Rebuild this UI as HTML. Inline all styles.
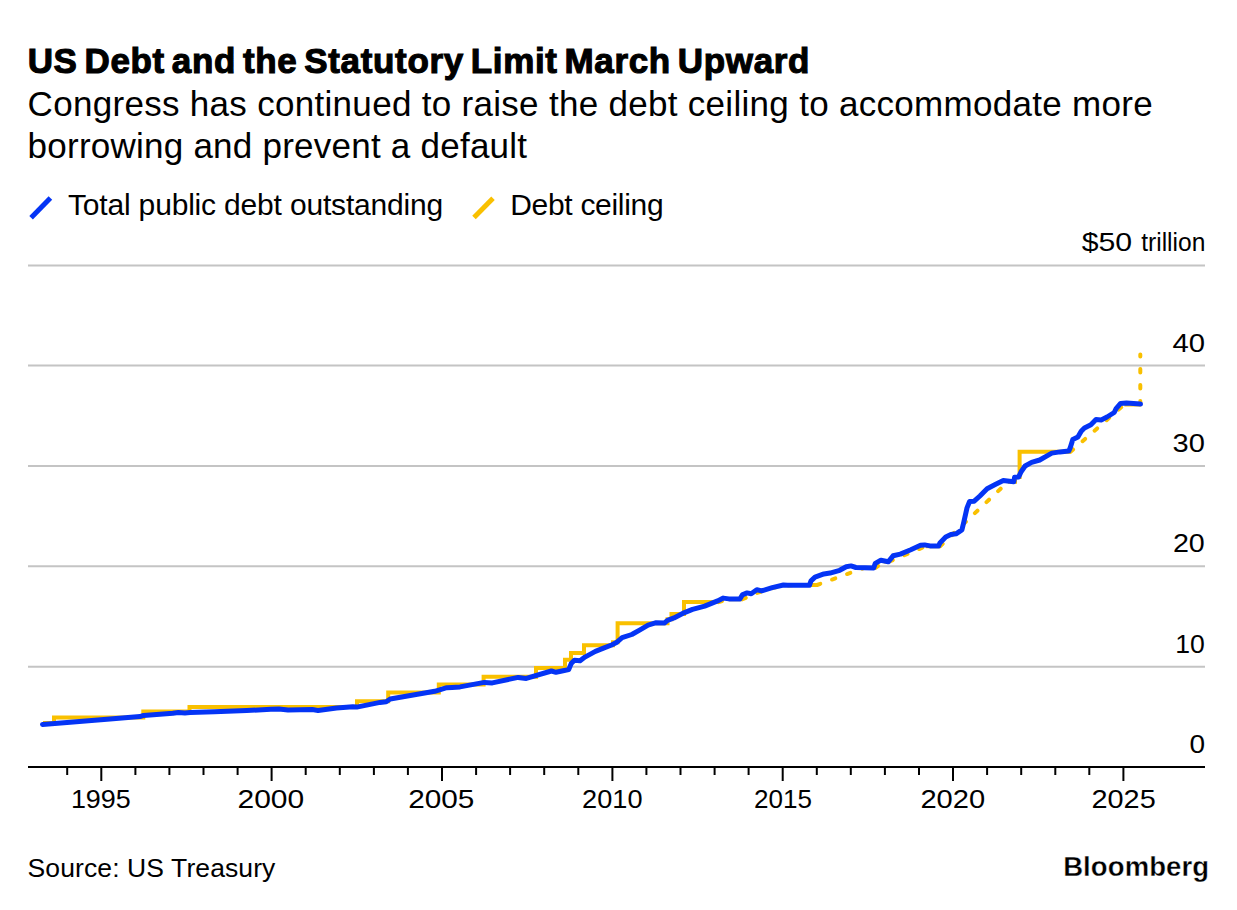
<!DOCTYPE html>
<html><head><meta charset="utf-8"><title>US Debt and the Statutory Limit March Upward</title>
<style>
html,body{margin:0;padding:0;background:#fff;}
body{width:1237px;height:910px;overflow:hidden;}
svg{display:block;}
text{font-family:"Liberation Sans",Arial,Helvetica,sans-serif;fill:#000;}
</style></head><body>
<svg width="1237" height="910" viewBox="0 0 1237 910">
<rect width="1237" height="910" fill="#fff"/>
<text x="27.7" y="72.8" font-size="35" font-weight="700" stroke="#000" stroke-width="1.1" letter-spacing="0.66" word-spacing="-3.5">US Debt and the Statutory Limit March Upward</text>
<text x="27.6" y="115.6" font-size="35" letter-spacing="0.3">Congress has continued to raise the debt ceiling to accommodate more</text>
<text x="27.6" y="157.7" font-size="35" letter-spacing="0.24">borrowing and prevent a default</text>
<line x1="31.1" y1="217.7" x2="50.4" y2="197.9" stroke="#0434f5" stroke-width="5"/>
<text x="68" y="215.2" font-size="30" letter-spacing="-0.18">Total public debt outstanding</text>
<line x1="474" y1="217.5" x2="493" y2="198.3" stroke="#f9c000" stroke-width="5"/>
<text x="510.2" y="215.2" font-size="30" letter-spacing="-0.3">Debt ceiling</text>
<g font-size="26.6">
<text y="251"><tspan x="1081.7" textLength="50.5" lengthAdjust="spacingAndGlyphs">$50</tspan> <tspan x="1141.2" textLength="64.16" lengthAdjust="spacingAndGlyphs">trillion</tspan></text>
<text x="1172.50" y="351.7" textLength="32.55" lengthAdjust="spacingAndGlyphs">40</text><text x="1172.50" y="452" textLength="32.34" lengthAdjust="spacingAndGlyphs">30</text><text x="1172.90" y="552.3" textLength="31.92" lengthAdjust="spacingAndGlyphs">20</text><text x="1175.30" y="652.8" textLength="29.59" lengthAdjust="spacingAndGlyphs">10</text><text x="1189.40" y="753" textLength="15.59" lengthAdjust="spacingAndGlyphs">0</text>
</g>
<g stroke="#c4c4c4" stroke-width="2"><line x1="28" x2="1205" y1="265.4" y2="265.4"/><line x1="28" x2="1205" y1="365.6" y2="365.6"/><line x1="28" x2="1205" y1="465.9" y2="465.9"/><line x1="28" x2="1205" y1="566.3" y2="566.3"/><line x1="28" x2="1205" y1="666.8" y2="666.8"/></g>
<g fill="none" stroke="#f9c000" stroke-width="4" stroke-linejoin="miter">
<path d="M43 723 H54 V717.5 H143.3 V711.4 H189.5 V706.9 H357 V701.3 H388.2 V692.4 H438.8 V684.4 H483.6 V676.8 H536 V668.1 H565 V659.8 H571 V652.9 H584 V645.2 H613 V642.3 H617.6 V623.2 H667.5 V619.3 H671.5 V614 H684 V602.1 H718.7"/><path d="M728.6 599.2 H742.5"/><path d="M795.2 585 H817"/><path d="M863.7 568 H875.4"/><path d="M883.8 561.5 H889.6"/><path d="M925.8 546.2 H940.1"/><path d="M1007.9 481.8 H1015 V477 H1019.6 V451.8 H1070.5"/><path d="M1124.4 404.5 H1140.3"/>
</g>
<g fill="none" stroke="#f9c000" stroke-width="4" stroke-linecap="round" stroke-dasharray="3.5 12.5">
<path d="M718.7 602.1 L728.6 599.2"/><path d="M742.5 599.2 L757 593 L772 588.2 L783.5 585.6 L795.2 585.2"/><path d="M817 585 L863.7 568"/><path d="M875.4 568 L883.8 561.5"/><path d="M889.6 561.5 L925.8 546.2"/><path d="M940.1 546.2 L1007.9 481.8"/><path d="M1070.5 451.8 L1124.4 404.5"/><path d="M1140.3 404.5 V354.4"/>
</g>
<path d="M42.5 724.4 L110 718.9 L140 716.6 L143.6 715.4 L172.8 713.3 L178.4 712.6 L184.9 712.9 L190 712.6 L214.3 711.7 L246.6 710.5 L270.8 709.3 L278.9 708.9 L288.1 710 L312.3 709.6 L318 710.4 L336.6 707.9 L352.8 706.7 L356.8 707.1 L380 702.4 L386.2 701.8 L390.2 699 L434.7 691.3 L446.8 687.7 L452 687.4 L460 686.9 L484.3 682.4 L492.3 682.9 L518.2 677.4 L526.3 678.4 L551.4 671 L556 672.3 L563.1 670.8 L568.7 669.6 L571.2 663.6 L574.4 660.3 L580.1 660.7 L584.9 657.1 L595.4 651.4 L603.5 648.2 L611.6 645 L616.4 642.6 L622.1 637.7 L631.8 634.5 L640 629.8 L648.1 625.1 L656.2 622.7 L664.3 623.1 L667.5 620.3 L674 617.9 L684.5 612.6 L692.5 609.4 L704.7 606.1 L717.6 600.9 L723.3 598.1 L728.9 598.9 L739.9 599 L742.3 594.9 L747.1 592.9 L751.2 593.8 L756.8 589.7 L761.7 590.9 L772.2 587.6 L783.5 585 L787.5 585.2 L809.4 585.3 L811 580.8 L815 577.1 L823.9 573.9 L830 573.1 L839.7 570.3 L846.2 566.7 L851 565.9 L855.9 567.5 L873.7 567.9 L875.3 563.4 L880.9 560.2 L888.2 561.8 L893.1 555.8 L900.3 554.1 L910.8 549.7 L920.5 545.3 L924.6 544.9 L930 545.9 L938.6 546.1 L939.9 542.9 L945.7 537 L950.9 534.5 L956 533.8 L961.9 529.9 L963.8 522.2 L967 507.9 L969.6 501.5 L974.2 501.2 L979.9 496 L987.1 488.7 L995.2 484.6 L1003.3 480.6 L1007.3 481 L1013.8 481.8 L1014.6 477.3 L1018.7 476.9 L1021.1 471.7 L1025.1 466 L1031.6 462.4 L1039.7 460 L1046.1 456.3 L1051.8 453.1 L1059.9 451.9 L1068.8 451.1 L1070.3 447.5 L1072.8 439.6 L1077.9 437 L1081.2 431.2 L1084.4 428 L1090.9 424.8 L1096 419.6 L1101.2 419.9 L1107 417 L1114.2 412.5 L1116.1 408.6 L1120.6 403.4 L1126.4 403.1 L1140.5 404.1" fill="none" stroke="#0434f5" stroke-width="5" stroke-linejoin="round" stroke-linecap="round"/>
<g stroke="#000" stroke-width="2">
<line x1="28" x2="1205" y1="767" y2="767"/>
<line x1="67.2" x2="67.2" y1="767" y2="775"/><line x1="101.3" x2="101.3" y1="767" y2="781"/><line x1="135.4" x2="135.4" y1="767" y2="775"/><line x1="169.4" x2="169.4" y1="767" y2="775"/><line x1="203.5" x2="203.5" y1="767" y2="775"/><line x1="237.6" x2="237.6" y1="767" y2="775"/><line x1="271.6" x2="271.6" y1="767" y2="781"/><line x1="305.7" x2="305.7" y1="767" y2="775"/><line x1="339.8" x2="339.8" y1="767" y2="775"/><line x1="373.9" x2="373.9" y1="767" y2="775"/><line x1="407.9" x2="407.9" y1="767" y2="775"/><line x1="442.0" x2="442.0" y1="767" y2="781"/><line x1="476.1" x2="476.1" y1="767" y2="775"/><line x1="510.1" x2="510.1" y1="767" y2="775"/><line x1="544.2" x2="544.2" y1="767" y2="775"/><line x1="578.3" x2="578.3" y1="767" y2="775"/><line x1="612.4" x2="612.4" y1="767" y2="781"/><line x1="646.4" x2="646.4" y1="767" y2="775"/><line x1="680.5" x2="680.5" y1="767" y2="775"/><line x1="714.6" x2="714.6" y1="767" y2="775"/><line x1="748.6" x2="748.6" y1="767" y2="775"/><line x1="782.7" x2="782.7" y1="767" y2="781"/><line x1="816.8" x2="816.8" y1="767" y2="775"/><line x1="850.8" x2="850.8" y1="767" y2="775"/><line x1="884.9" x2="884.9" y1="767" y2="775"/><line x1="919.0" x2="919.0" y1="767" y2="775"/><line x1="953.0" x2="953.0" y1="767" y2="781"/><line x1="987.1" x2="987.1" y1="767" y2="775"/><line x1="1021.2" x2="1021.2" y1="767" y2="775"/><line x1="1055.3" x2="1055.3" y1="767" y2="775"/><line x1="1089.3" x2="1089.3" y1="767" y2="775"/><line x1="1123.4" x2="1123.4" y1="767" y2="781"/>
</g>
<g font-size="26.6"><text x="70.9" y="807.7" textLength="59.91" lengthAdjust="spacingAndGlyphs">1995</text><text x="237.5" y="807.7" textLength="66.75" lengthAdjust="spacingAndGlyphs">2000</text><text x="408.2" y="807.7" textLength="66.23" lengthAdjust="spacingAndGlyphs">2005</text><text x="582.1" y="807.7" textLength="60.42" lengthAdjust="spacingAndGlyphs">2010</text><text x="754.0" y="807.7" textLength="57.93" lengthAdjust="spacingAndGlyphs">2015</text><text x="920.4" y="807.7" textLength="64.78" lengthAdjust="spacingAndGlyphs">2020</text><text x="1091.5" y="807.7" textLength="64.26" lengthAdjust="spacingAndGlyphs">2025</text></g>
<text x="27.6" y="877.3" font-size="26.5" letter-spacing="0.1">Source: US Treasury</text>
<text x="1209.2" y="876" font-size="27.5" font-weight="700" text-anchor="end" stroke="#fff" stroke-width="0.35" letter-spacing="0.1">Bloomberg</text>
</svg>
</body></html>
